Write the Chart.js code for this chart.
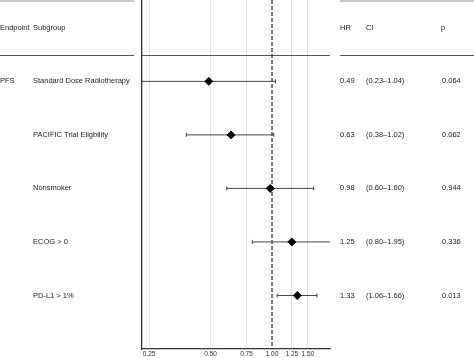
<!DOCTYPE html>
<html>
<head>
<meta charset="utf-8">
<script src="https://cdn.jsdelivr.net/npm/chart.js@4.4.1/dist/chart.umd.min.js"></script>
<style>
  html, body { margin: 0; padding: 0; background: #fff; }
  #wrap { width: 474px; height: 358px; position: relative; }
</style>
</head>
<body>
<div id="wrap"><canvas id="c" width="474" height="358"></canvas></div>
<script>
// ---- data ----
const endpoints = ['PFS', '', '', '', ''];
const subgroups = ['Standard Dose Radiotherapy', 'PACIFIC Trial Eligbility', 'Nonsmoker', 'ECOG > 0', 'PD-L1 > 1%'];
const hr = [0.49, 0.63, 0.98, 1.25, 1.33];
const ciLow = [0.23, 0.38, 0.60, 0.80, 1.06];
const ciHigh = [1.04, 1.02, 1.60, 1.95, 1.66];
const pValues = ['0.064', '0.062', '0.944', '0.336', '0.013'];
const tickValues = [0.25, 0.50, 0.75, 1.00, 1.25, 1.50];
const headers = { endpoint: 'Endpoint', subgroup: 'Subgroup', hr: 'HR', ci: 'CI', p: 'p' };

const FONT = '"Liberation Sans", Arial, sans-serif';
const TEXT = '#222';

const rows = hr.map((v, i) => i + 1);

const datasets = [];
datasets.push({
  label: 'HR',
  data: hr.map((v, i) => ({ x: v, y: rows[i] })),
  pointStyle: 'rectRot',
  pointRadius: 4,
  backgroundColor: '#000',
  borderColor: '#000',
  borderWidth: 1,
  showLine: false
});
hr.forEach((v, i) => {
  datasets.push({
    label: 'CI ' + i,
    data: [{ x: ciLow[i], y: rows[i] }, { x: ciHigh[i], y: rows[i] }],
    showLine: true,
    borderColor: '#444',
    borderWidth: 1,
    pointStyle: 'line',
    pointRadius: 2,
    pointRotation: 90,
    pointBorderColor: '#444',
    pointBorderWidth: 1
  });
});
datasets.push({
  label: 'ref',
  data: [{ x: 1, y: -0.52 }, { x: 1, y: 6 }],
  showLine: true,
  borderColor: '#222',
  borderWidth: 1.2,
  borderDash: [4, 2],
  pointRadius: 0
});

const tablePlugin = {
  id: 'table',
  beforeDatasetsDraw(chart) {
    const ctx = chart.ctx;
    const ys = chart.scales.y;
    const W = chart.width;
    ctx.save();
    // grey band at top
    ctx.fillStyle = '#c8c8c8';
    ctx.fillRect(0, 0, 134, 2);
    ctx.fillRect(340, 0, W - 340, 2);
    // header separator lines
    const yl = Math.round(ys.getPixelForValue(0.5)) + 0.5;
    ctx.strokeStyle = '#555';
    ctx.lineWidth = 1;
    [[0, 134], [chart.chartArea.left, chart.chartArea.right], [340, W]].forEach(([a, b]) => {
      ctx.beginPath(); ctx.moveTo(a, yl); ctx.lineTo(b, yl); ctx.stroke();
    });
    ctx.restore();
  },
  afterDraw(chart) {
    const ctx = chart.ctx;
    const ys = chart.scales.y;
    ctx.save();
    ctx.font = '7.5px ' + FONT;
    ctx.fillStyle = TEXT;
    ctx.textBaseline = 'middle';
    ctx.textAlign = 'left';
    const hy = ys.getPixelForValue(0);
    ctx.fillText(headers.endpoint, 0, hy);
    ctx.fillText(headers.subgroup, 33, hy);
    ctx.fillText(headers.hr, 340, hy);
    ctx.fillText(headers.ci, 366, hy);
    ctx.fillText(headers.p, 441, hy);
    rows.forEach((r, i) => {
      const y = ys.getPixelForValue(r);
      if (endpoints[i]) ctx.fillText(endpoints[i], 0, y);
      ctx.fillText(subgroups[i], 33, y);
      ctx.fillText(hr[i].toFixed(2), 340, y);
      ctx.fillText('(' + ciLow[i].toFixed(2) + '\u2013' + ciHigh[i].toFixed(2) + ')', 366, y);
      ctx.fillText(pValues[i], 442, y);
    });
    ctx.restore();
  }
};

new Chart(document.getElementById('c'), {
  type: 'scatter',
  data: { datasets },
  plugins: [tablePlugin],
  options: {
    responsive: false,
    animation: false,
    events: [],
    layout: { autoPadding: false, padding: { left: 142, right: 144, top: 0, bottom: 0 } },
    plugins: { legend: { display: false }, tooltip: { enabled: false } },
    scales: {
      x: {
        type: 'logarithmic',
        min: 0.2306,
        max: 1.924,
        afterBuildTicks(scale) { scale.ticks = tickValues.map(v => ({ value: v })); },
        afterFit(scale) { scale.height = 9; },
        grid: {
          drawTicks: false,
          color: ctx => (ctx.tick && ctx.tick.value === 1) ? 'rgba(0,0,0,0)' : '#e4e4e4',
          lineWidth: 1
        },
        border: { display: true, color: '#333', width: 1.2 },
        ticks: {
          autoSkip: false,
          maxRotation: 0,
          padding: 1,
          color: '#333',
          font: { size: 6.5, family: FONT },
          callback: v => Number(v).toFixed(2)
        }
      },
      y: {
        type: 'linear',
        min: -0.52,
        max: 6,
        reverse: true,
        afterFit(scale) { scale.width = 0; },
        grid: { display: false, drawTicks: false },
        border: { display: true, color: '#333', width: 1.3 },
        ticks: { display: false }
      }
    }
  }
});
</script>
</body>
</html>
